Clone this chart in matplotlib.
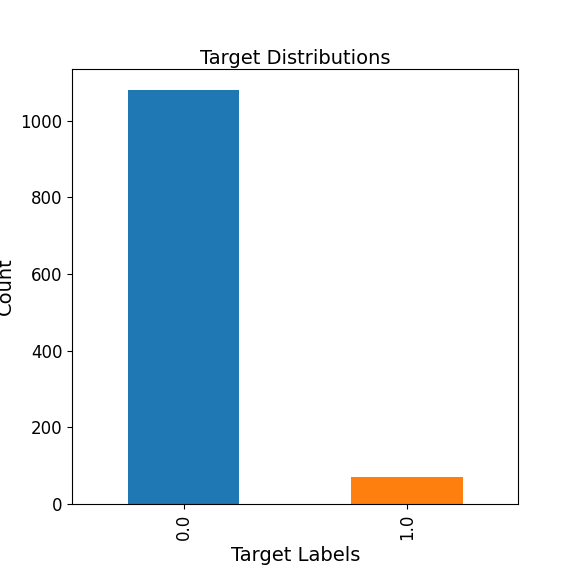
import matplotlib
matplotlib.use("Agg")
import matplotlib.pyplot as plt

labels = ["0.0", "1.0"]
counts = [1081, 70]
colors = ["#1f77b4", "#ff7f0e"]

fig = plt.figure(figsize=(5.76, 5.76), dpi=100)
ax = fig.add_axes([0.125, 0.125, 0.775, 0.755])
ax.bar(range(len(labels)), counts, width=0.5, color=colors)
ax.set_xticks(range(len(labels)))
ax.set_xticklabels(labels, rotation=90, fontsize=12)
ax.tick_params(axis="y", labelsize=12)
ax.set_xlim(-0.5, 1.5)
ax.set_ylim(0, 1135)
ax.set_title("Target Distributions", fontsize=14, pad=4)
ax.set_xlabel("Target Labels", fontsize=14)
ax.set_ylabel("Count", fontsize=14)
fig.savefig("out.png", dpi=100)
